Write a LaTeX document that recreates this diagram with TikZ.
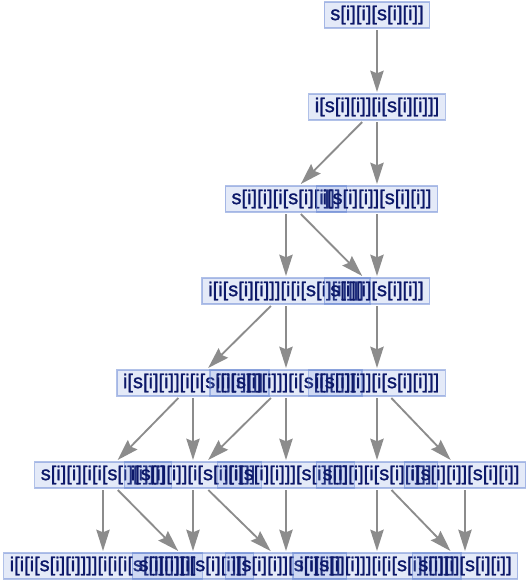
\documentclass[tikz,border=0pt]{standalone}
\usepackage{fontspec}
\setmainfont{Liberation Sans}
\newfontfamily\statefont{Liberation Sans}[RawFeature={embolden=1.3}]
\usepackage{xcolor}
\usetikzlibrary{arrows.meta}
\definecolor{statefill}{RGB}{122,150,222}
\definecolor{stateline}{RGB}{100,131,209}
\definecolor{statetext}{RGB}{12,24,105}
\definecolor{flowgray}{RGB}{140,140,140}

\begin{document}
\begin{tikzpicture}[x=0.75pt, y=-0.75pt,
  >={Stealth[length=16pt, width=10pt, inset=2pt]},
  state/.style={rectangle, draw=stateline, draw opacity=0.5, fill=statefill,
    fill opacity=0.2, text opacity=1, text=statetext, line width=1pt,
    inner xsep=4.6pt, inner ysep=0pt, minimum height=19.5pt,
    text height=10.9pt, text depth=3.2pt, outer sep=1.5pt,
    font=\statefont\fontsize{15}{18}\selectfont},
  flow/.style={->, draw=flowgray, line width=1.4pt}]
  \useasboundingbox (0,0) rectangle (532,582);
  % Steps 0 to 2
  \node[state] (s0) at (377,15) {s[i][i][s[i][i]]};
  \node[state] (s1) at (377,107) {i[s[i][i]][i[s[i][i]]]};
  \node[state] (s2a) at (286,199) {s[i][i][i[s[i][i]]]};
  \node[state] (s2b) at (377,199) {i[s[i][i]][s[i][i]]};
  % Steps 3 and 4
  \node[state] (s3a) at (286,291) {i[i[s[i][i]]][i[i[s[i][i]]]]};
  \node[state] (s3b) at (377,291) {s[i][i][s[i][i]]};
  \node[state] (s4a) at (193,383) {i[s[i][i]][i[i[s[i][i]]]]};
  \node[state] (s4b) at (286,383) {i[i[s[i][i]]][i[s[i][i]]]};
  \node[state] (s4c) at (377,383) {i[s[i][i]][i[s[i][i]]]};
  % Step 5
  \node[state] (s5a) at (103,475) {s[i][i][i[i[s[i][i]]]]};
  \node[state] (s5b) at (193,475) {i[s[i][i]][i[s[i][i]]]};
  \node[state] (s5c) at (286,475) {i[i[s[i][i]]][s[i][i]]};
  \node[state] (s5d) at (377,475) {s[i][i][i[s[i][i]]]};
  \node[state] (s5e) at (465,475) {i[s[i][i]][s[i][i]]};
  % Step 6
  \node[state] (s6a) at (103,566) {i[i[i[s[i][i]]]][i[i[i[s[i][i]]]]]};
  \node[state] (s6b) at (193,566) {s[i][i][i[s[i][i]]]};
  \node[state] (s6c) at (286,566) {i[s[i][i]][s[i][i]]};
  \node[state] (s6d) at (377,566) {i[i[s[i][i]]][i[i[s[i][i]]]]};
  \node[state] (s6e) at (465,566) {s[i][i][s[i][i]]};
  % Arrows
  \draw[flow] (s0) -- (s1);
  \draw[flow] (s1) -- (s2a);
  \draw[flow] (s1) -- (s2b);
  \draw[flow] (s2a) -- (s3a);
  \draw[flow] (s2a) -- (s3b);
  \draw[flow] (s2b) -- (s3b);
  \draw[flow] (s3a) -- (s4a);
  \draw[flow] (s3a) -- (s4b);
  \draw[flow] (s3b) -- (s4c);
  \draw[flow] (s4a) -- (s5a);
  \draw[flow] (s4a) -- (s5b);
  \draw[flow] (s4b) -- (s5b);
  \draw[flow] (s4b) -- (s5c);
  \draw[flow] (s4c) -- (s5d);
  \draw[flow] (s4c) -- (s5e);
  \draw[flow] (s5a) -- (s6a);
  \draw[flow] (s5a) -- (s6b);
  \draw[flow] (s5b) -- (s6b);
  \draw[flow] (s5b) -- (s6c);
  \draw[flow] (s5c) -- (s6c);
  \draw[flow] (s5d) -- (s6d);
  \draw[flow] (s5d) -- (s6e);
  \draw[flow] (s5e) -- (s6e);
\end{tikzpicture}
\end{document}
